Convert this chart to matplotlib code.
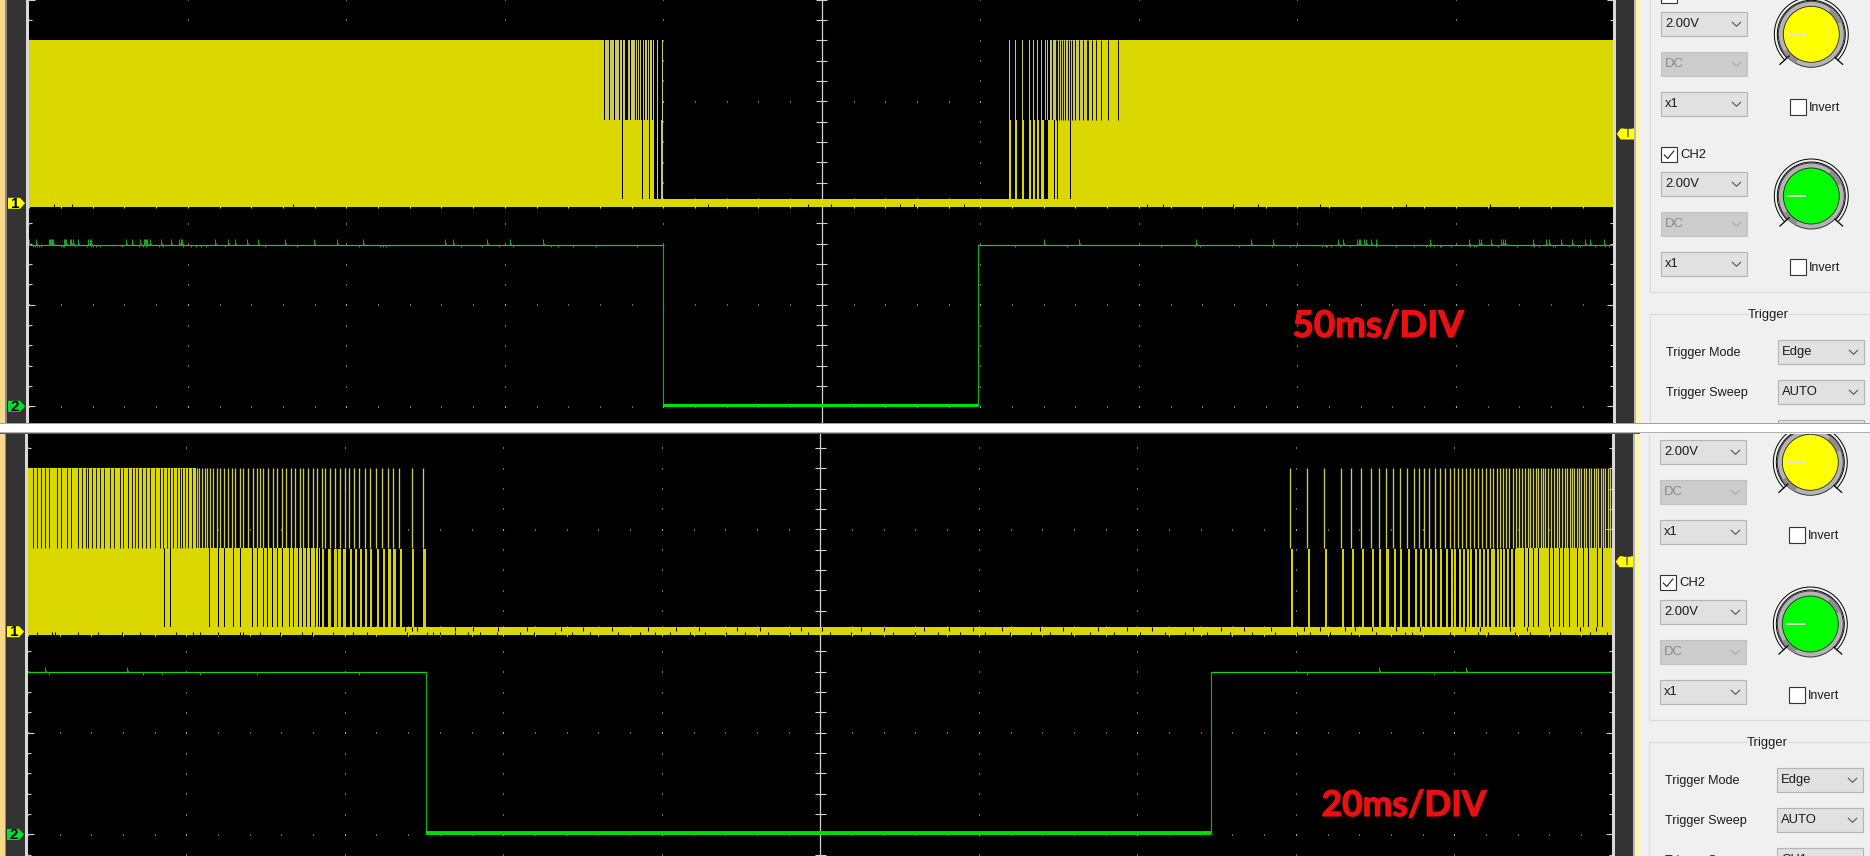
import numpy as np
import matplotlib
matplotlib.use('Agg')
import matplotlib.pyplot as plt
import matplotlib.patheffects as pe
from matplotlib.patches import Rectangle, Circle, Wedge, Arc, Polygon

W, H = 1870, 856
YELLOW = '#DAD800'
PALE = '#CBC95A'
GREEN = '#00E000'
DARKGREEN = '#1E9E2A'
plt.rcParams['font.family'] = ['Liberation Sans', 'DejaVu Sans']

# all trace values are in capture pixels (screen column / screen row of the scope window)

# ---- top capture, 50ms/DIV ----
top_ch1_levels = [40, 120, 199, 206.7]   # high, middle, band top, band bottom
top_upper_edges = [29, 662.5, 1009, 1614]
top_lower_edges = [29, 662.5, 1009, 1614]
top_upper_gap_start = [604, 609, 614, 618.7, 622, 625.3, 627.3, 630.3, 635.3, 637, 639, 641, 644, 646.7, 648.7,
                       651.7, 654, 658.3, 1010, 1016, 1023, 1030, 1034.3, 1038, 1042.3, 1046.3, 1048.3, 1051.7]
top_upper_gap_width = [1, 1, 1, 1, 1, 1.3, 1, 1, 1, 1, 1, 2.3, 1, 1, 1.3,
                       1.7, 3.3, 3.7, 5, 6, 5.7, 3, 2.7, 3.3, 3, 1, 1.7, 1.7]
top_upper_lines = [1055.7, 1057.3, 1059.3, 1061, 1063.3, 1065.3, 1068, 1070, 1072.3, 1075.3, 1078.7, 1083.3, 1086.7,
                   1088.3, 1092.3, 1096.3, 1101.3, 1108, 1118]
top_lower_gap_start = [622, 642, 649, 654, 658.3, 1011, 1017, 1024, 1031, 1035, 1039, 1044, 1054, 1057, 1070]
top_lower_gap_width = [1, 1, 1, 2.7, 2.4, 4, 5, 4.7, 2, 2, 2.3, 4, 1, 1, 1]
top_band_notches = [54, 72, 293, 708, 808, 831, 900, 914, 964, 1147, 1163, 1233, 1258, 1320, 1406, 1490]

top_ch2_cols = [29, 663, 663, 977.5, 977.5, 1614]
top_ch2_rows = [244.5, 244.5, 405, 405, 244.5, 244.5]
top_spikes_up = [29, 36, 49, 50, 51, 52, 53, 64, 65, 66, 70, 71, 73, 78, 88, 90, 91, 126, 132, 140, 144, 145, 146, 147,
                 150, 161, 171, 179, 181, 182, 215, 228, 235, 247, 258, 285, 314, 337, 363, 445, 453, 487, 510, 543,
                 1044, 1079, 1196, 1251, 1273, 1338, 1343, 1357, 1359, 1360, 1364, 1366, 1371, 1376, 1430, 1469,
                 1479, 1481, 1491, 1501, 1503, 1505, 1533, 1546, 1549, 1561, 1572, 1585, 1590, 1604]
top_spikes_down = [33, 35, 37, 39, 41, 61, 63, 64, 75, 87, 91, 93, 96, 100, 122, 139, 143, 146, 159, 163, 183, 191, 196,
                   201, 206, 225, 265, 297, 359, 380, 383, 386, 461, 482, 499, 513, 551, 558, 573, 596, 637,
                   1015, 1067, 1161, 1195, 1200, 1239, 1272, 1290, 1296, 1322, 1326, 1327, 1331, 1340, 1350, 1376,
                   1396, 1414, 1426, 1430, 1434, 1440, 1441, 1451, 1470, 1474, 1476, 1498, 1517, 1534, 1539, 1553,
                   1555, 1569, 1578, 1580, 1595, 1605, 1609]

# ---- bottom capture, 20ms/DIV ----
bot_ch1_levels = [468, 548, 627, 635]
bot_upper_gaps = [32.7, 36.7, 41.3, 45.3, 49.3, 56.7, 60.7, 67.3, 71.3, 78.3, 82.3, 86, 88.3, 91.7, 96.3, 100, 104, 110,
                  114.3, 120, 123.3, 128.3, 131.7, 135, 138.3, 141.7, 145.7, 150, 155, 160, 163.3, 166.7, 170, 173.3,
                  176.7, 180, 181.7, 185, 188.3, 191.7]
bot_upper_pulses = [196.7, 199.3, 201.7, 205, 207.3, 210, 213.3, 216.7, 220, 224, 228.3, 231.7, 235, 240, 243.3, 248.3,
                    253.3, 256.7, 260, 263.3, 268.3, 273.3, 277.3, 281.7, 286, 290.7, 295, 300, 303.3, 308.3, 313.3,
                    316.7, 321.7, 325, 330, 335, 340, 345, 349.3, 354.3, 359.3, 365, 370, 376, 381.7, 387.7, 393.3,
                    399.3, 411.7, 423.3,
                    1290.3, 1307.3, 1324.3, 1341.3, 1351.3, 1361.3, 1371.3, 1379, 1386.3, 1393.3, 1400.3, 1407.3,
                    1414.3, 1419.3, 1424.3, 1429.3, 1434.7, 1440, 1445.3, 1450.3, 1453.7, 1458, 1462.3, 1466.3, 1470,
                    1474.3, 1478.3, 1482, 1486, 1490, 1493.3, 1496.7, 1500, 1503, 1506, 1509, 1513.3, 1516.3, 1519.3,
                    1522.3, 1525, 1527.7, 1530.3, 1533, 1535.7, 1538.3, 1540.7, 1542.7, 1545, 1547.7, 1551, 1553.7,
                    1556.7, 1559.3, 1562, 1564.7, 1567.3, 1569.7, 1572, 1574.3, 1576.7, 1579, 1581.3, 1583.7, 1586,
                    1588.7, 1591, 1594, 1596, 1598.3, 1600.7, 1603, 1605.3, 1607.7, 1610.3]
bot_lower_gaps = [164.3, 170.3, 209.3, 218.3, 224.3, 233.3, 240.3, 252.3, 256.7, 263.3, 266.7, 271.7, 276.7, 281.7,
                  289.3, 293.3, 298.3, 301.7, 306, 310, 315, 318.3,
                  1524, 1528.3, 1533.3, 1538.3, 1549.3, 1553.3, 1559.3, 1563.3, 1569.3, 1576.7, 1583.3, 1588.3, 1597.3,
                  1602.3]
bot_lower_pulses = [321.7, 328.3, 334.3, 338.3, 343.3, 350, 355, 360, 365, 370, 376.7, 382.7, 388.3, 393.3, 400, 411.7,
                    423.3, 1290.7, 1308, 1325, 1341.7, 1352, 1362, 1372, 1379, 1386.3, 1393.7, 1400, 1408, 1415, 1420,
                    1425, 1430, 1435, 1440, 1446, 1451, 1454, 1459, 1463, 1467, 1470, 1475, 1479, 1483, 1487, 1491,
                    1493, 1496.7, 1500, 1503, 1507, 1511, 1515]
bot_lower_solid = [27.8, 320, 1516, 1613]
bot_band_notches = [37, 52, 55, 78, 98, 122, 140, 176, 193, 200, 218, 240, 243, 260, 280, 302, 312, 333, 353, 367, 407,
                    427, 433, 440, 455, 468, 480, 497, 520, 534, 555, 572, 590, 618, 640, 655, 670, 690, 705, 726, 745,
                    768, 790, 808, 830, 851, 870, 893, 915, 938, 960, 985, 1010, 1031, 1050, 1071, 1090, 1114,
                    1140, 1165, 1185, 1207, 1230, 1252, 1275, 1297, 1310, 1330, 1351, 1376, 1405, 1412, 1450, 1478,
                    1488, 1515, 1530, 1560, 1590, 1607]
bot_band_top_notches = [405, 412, 417, 455, 473, 498, 527, 561, 583, 612, 648, 676, 699, 737, 760, 801, 822, 861, 884,
                        924, 949, 973, 1002, 1040, 1063, 1098, 1127, 1152, 1193, 1221, 1244, 1271, 1304, 1320, 1345,
                        1355, 1372, 1396, 1420, 1465, 1480, 1510, 1527, 1550, 1580, 1596]

bot_ch2_cols = [27.8, 425.7, 425.7, 1211, 1211, 1613]
bot_ch2_rows = [672.3, 672.3, 832.7, 832.7, 672.3, 672.3]
bot_spikes_up = [44.7, 126.7, 1379, 1466]
bot_spikes_down = [48.7, 142.7, 161.7, 199.7, 256.7, 358.7, 1307, 1434]


def px_axes(fig, x0, y0, x1, y1, bg):
    ax = fig.add_axes([x0 / W, 1 - y1 / H, (x1 - x0) / W, (y1 - y0) / H])
    ax.set_xlim(x0, x1)
    ax.set_ylim(y1, y0)
    ax.set_facecolor(bg)
    ax.set_xticks([])
    ax.set_yticks([])
    for s in ax.spines.values():
        s.set_visible(False)
    return ax


def graticule(ax, cx, cy, left, right, top, bottom):
    dx, dy = 158.5, 101.7
    grid_col = '#D8D8D8'
    # dotted rows and columns of the scope grid
    xs = cx + np.arange(-25, 26) * dx / 5
    ys = np.arange(-5, 6)
    for k in ys:
        yy = cy + k * dy
        if top < yy < bottom:
            ax.vlines(xs, yy - 0.5, yy + 0.5, colors=grid_col, linewidths=0.8, zorder=1)
    ys2 = cy + np.arange(-25, 26) * dy / 5
    for k in range(-5, 6):
        ax.vlines(np.full_like(ys2, cx + k * dx), ys2 - 0.5, ys2 + 0.5, colors=grid_col, linewidths=0.8, zorder=1)
    # centre cross and edge ticks
    ax.axvline(cx, color='#D0D0D0', lw=0.9, zorder=1)
    ax.hlines(ys2, cx - 5.5, cx + 5.5, colors='#D0D0D0', linewidths=0.8, zorder=1)
    ax.vlines(xs, cy - 5.3, cy + 5.3, colors='#D0D0D0', linewidths=0.8, zorder=1)
    ax.hlines(ys2, left, left + 3, colors='#D0D0D0', linewidths=0.8, zorder=1)
    ax.hlines(ys2, right - 3, right, colors='#D0D0D0', linewidths=0.8, zorder=1)
    ax.hlines(cy + ys * dy, left, left + 6, colors='#D0D0D0', linewidths=0.8, zorder=1)
    ax.hlines(cy + ys * dy, right - 6, right, colors='#D0D0D0', linewidths=0.8, zorder=1)


def span(ax, x0, x1, y0, y1, color, z=2):
    ax.bar([x0], [y1 - y0], [x1 - x0], bottom=[y0], align='edge', color=color, linewidth=0, zorder=z)


def gaps(ax, starts, widths, y0, y1, color='black', z=3):
    ax.bar(starts, [y1 - y0] * len(starts), widths, bottom=y0, align='edge', color=color, linewidth=0, zorder=z)


def spikes(ax, row, up, down, up_h=5.5, down_h=2.5):
    ax.vlines(up, row - up_h, row, colors=DARKGREEN, linewidths=0.75, zorder=5)
    ax.vlines(np.array(up) + 1, row - 2, row, colors=DARKGREEN, linewidths=0.75, zorder=5)
    ax.vlines(down, row, row + down_h, colors=DARKGREEN, linewidths=0.75, zorder=5)


def combo(ax, x, y, label, disabled=False):
    face, edge, tc = ('#CCCCCC', '#C2C2C2', '#8A8A8A') if disabled else ('#E1E1E1', '#B4B4B4', '#1A1A1A')
    ax.add_patch(Rectangle((x, y), 85.4, 23.4, fc=face, ec=edge, lw=0.8))
    ax.text(x + 4, y + 12, label, fontsize=9.4, color=tc, va='center', ha='left', clip_on=True)
    cc = '#A8A8A8' if disabled else '#555555'
    ax.plot([x + 71, x + 75.2, x + 79.4], [y + 10, y + 14, y + 10], color=cc, lw=0.8)


def checkbox(ax, x, y, checked):
    ax.add_patch(Rectangle((x, y), 15.4, 15.4, fc='white', ec='#333333', lw=0.8))
    if checked:
        ax.plot([x + 3, x + 6.5, x + 12.5], [y + 8, y + 11.5, y + 4], color='#333333', lw=0.9)


def knob(ax, cx, cy, color):
    ax.add_patch(Arc((cx, cy), 74, 74, theta1=135, theta2=405, color='black', lw=0.7))
    ax.add_patch(Arc((cx, cy), 68, 68, theta1=135, theta2=405, color='black', lw=0.7))
    ax.add_patch(Circle((cx, cy), 33, fc='#B4B4B4', ec='#333333', lw=0.7))
    ax.add_patch(Wedge((cx, cy), 33, -52, -22, width=5, fc='#8E8E8E', lw=0))
    ax.add_patch(Wedge((cx, cy), 33, 118, 148, width=5, fc='#8E8E8E', lw=0))
    ax.add_patch(Circle((cx, cy), 28, fc=color, ec='#222222', lw=0.6))
    ax.plot([cx - 23, cx - 6.5], [cy - 0.5, cy - 0.5], color='#E4E4D8', lw=1.4)
    ax.plot([cx - 31.3, cx - 22.3], [cy + 30, cy + 21.7], color='black', lw=0.9)
    ax.plot([cx + 31.3, cx + 23.7], [cy + 30, cy + 23.3], color='black', lw=0.9)


def controls(ax, dx, dy, knob_y):
    tc = '#1A1A1A'
    checkbox(ax, 1661.3 + dx, -13.7 + dy, False)
    combo(ax, 1661.3 + dx, 11.3 + dy, '2.00V')
    combo(ax, 1661.3 + dx, 51.3 + dy, 'DC', disabled=True)
    combo(ax, 1661.3 + dx, 91.3 + dy, 'x1')
    knob(ax, 1811.3 + dx, knob_y + dy, '#FFFF00')
    checkbox(ax, 1790.3 + dx, 98.3 + dy, False)
    ax.text(1809 + dx, 106.7 + dy, 'Invert', fontsize=9, color=tc, va='center')

    checkbox(ax, 1661.3 + dx, 146 + dy, True)
    ax.text(1680 + dx, 154 + dy, 'CH2', fontsize=9.4, color=tc, va='center')
    combo(ax, 1661.3 + dx, 171.3 + dy, '2.00V')
    combo(ax, 1661.3 + dx, 211.3 + dy, 'DC', disabled=True)
    combo(ax, 1661.3 + dx, 251.3 + dy, 'x1')
    knob(ax, 1811.3 + dx, 195 + dy, '#00FF00')
    checkbox(ax, 1790.3 + dx, 258.3 + dy, False)
    ax.text(1809 + dx, 266.7 + dy, 'Invert', fontsize=9, color=tc, va='center')

    # group boxes
    box = '#DCDCDC'
    ax.plot([1650.3 + dx, 1650.3 + dx, 1875], [-30 + dy, 291.3 + dy, 291.3 + dy], color=box, lw=0.9)
    ax.plot([1650.3 + dx, 1650.3 + dx, 1748 + dx], [460 + dy, 313.3 + dy, 313.3 + dy], color=box, lw=0.9)
    ax.plot([1789 + dx, 1875], [313.3 + dy, 313.3 + dy], color=box, lw=0.9)
    ax.text(1768.5 + dx, 314 + dy, 'Trigger', fontsize=9.4, color=tc, va='center', ha='center')

    ax.text(1666 + dx, 351.7 + dy, 'Trigger Mode', fontsize=9.1, color=tc, va='center', clip_on=True)
    combo(ax, 1778.3 + dx, 339.3 + dy, 'Edge')
    ax.text(1666 + dx, 391.7 + dy, 'Trigger Sweep', fontsize=9.1, color=tc, va='center', clip_on=True)
    combo(ax, 1778.3 + dx, 379.3 + dy, 'AUTO')
    ax.text(1666 + dx, 431.7 + dy, 'Trigger Source', fontsize=9.1, color=tc, va='center', clip_on=True)
    combo(ax, 1778.3 + dx, 419.3 + dy, 'CH1')


def marker(ax, y, x0, x1, color, label):
    ax.add_patch(Polygon([[x0, y - 5.5], [x1 - 5, y - 5.5], [x1, y], [x1 - 5, y + 5.5], [x0, y + 5.5]], fc=color, lw=0, zorder=6))
    ax.text((x0 + x1 - 3) / 2, y + 0.4, label, fontsize=11, fontweight='bold', color='black', ha='center', va='center', zorder=7)


def t_marker(ax, y, x0, x1):
    ax.add_patch(Polygon([[x0, y], [x0 + 4, y - 5.5], [x1, y - 5.5], [x1, y + 5.5], [x0 + 4, y + 5.5]], fc='#FFFF00', lw=0, zorder=6))
    ax.text(x0 + 11.5, y + 0.3, 'T', fontsize=9.5, color='#444444', ha='center', va='center', zorder=7)


def div_label(ax, x, y, label, size):
    ax.text(x, y, label, fontsize=size, fontweight='bold', family='Lato', color='#E81010', ha='center', va='center', zorder=8,
            path_effects=[pe.withStroke(linewidth=0.9, foreground='#E81010')])


fig = plt.figure(figsize=(W / 100, H / 100), dpi=100, facecolor='white')

# window chrome behind both captures
bg = px_axes(fig, 0, 0, W, H, 'white')
for (off, y0, y1) in [(0, 0, 423.5), (-1, 433, 856)]:
    span(bg, 0, 4.5 + off + 1, y0, y1, '#FAD98B')
    span(bg, 4.5, 6.7 + off, y0, y1, '#8A8A8A')
    span(bg, 6.7 + off, 26 + off, y0, y1, '#333333')
    span(bg, 26 + off, 30 + off, y0, y1, '#D8D8D8')
    span(bg, 1612 + off, 1616 + off, y0, y1, '#D8D8D8')
    span(bg, 1616 + off, 1634 + off, y0, y1, '#333333')
    span(bg, 1634 + off, 1636 + off, y0, y1, '#BBBBBB')
    span(bg, 1636 + off, 1640 + off, y0, y1, '#FFF7A0')
    span(bg, 1640 + off, W, y0, y1, '#F0F0F0')
span(bg, 0, W, 423, 424, '#A0A0A0')
span(bg, 0, W, 431.7, 433, '#B0B0B0')
span(bg, 0, 1640, 433, 434, '#555555')
marker(bg, 203.3, 8, 25, '#FFFF00', '1')
marker(bg, 406.3, 8, 25, '#00E030', '2')
marker(bg, 631.7, 7, 24, '#FFFF00', '1')
marker(bg, 834.5, 7, 24, '#00E030', '2')
t_marker(bg, 134, 1616.7, 1634)
t_marker(bg, 561.7, 1615.7, 1633)

# top capture
top = px_axes(fig, 28.8, 0, 1613.3, 423, 'black')
graticule(top, 821.8, 203, 28.8, 1613.3, 0, 423)
high, mid, band_top, band_bot = top_ch1_levels
span(top, top_upper_edges[0], top_upper_edges[1], high, mid, YELLOW)
span(top, top_upper_edges[2], top_upper_edges[3], high, mid, YELLOW)
span(top, 604, top_upper_edges[1], high, mid, PALE)
span(top, top_upper_edges[2], 1085, high, mid, PALE)
span(top, top_lower_edges[0], top_lower_edges[1], mid, band_top, YELLOW)
span(top, top_lower_edges[2], top_lower_edges[3], mid, band_top, YELLOW)
span(top, 28, 1615, band_top, band_bot, YELLOW)
gaps(top, top_upper_gap_start, top_upper_gap_width, high, mid)
top.vlines(top_upper_lines, high, mid, colors='#111111', linewidths=0.72, zorder=3)
gaps(top, top_lower_gap_start, top_lower_gap_width, mid, band_top)
span(top, 660.7, 662.5, mid, band_top, PALE, z=3)
top.vlines(top_band_notches, band_bot - 3, band_bot, colors='black', linewidths=0.75, zorder=4)
top.plot(top_ch2_cols[:2], top_ch2_rows[:2], color=GREEN, lw=0.85, zorder=5)
top.plot(top_ch2_cols[4:], top_ch2_rows[4:], color=GREEN, lw=0.85, zorder=5)
top.plot(top_ch2_cols[1:3], top_ch2_rows[1:3], color='#10B020', lw=0.85, zorder=5)
top.plot(top_ch2_cols[3:5], top_ch2_rows[3:5], color='#10B020', lw=0.85, zorder=5)
top.plot(top_ch2_cols[2:4], top_ch2_rows[2:4], color=GREEN, lw=2.3, solid_capstyle='butt', zorder=5)
spikes(top, 244.5, top_spikes_up, top_spikes_down)
div_label(top, 1378, 326.5, '50ms/DIV', 26.5)

# bottom capture
bot = px_axes(fig, 27.8, 434, 1612.3, 856, 'black')
graticule(bot, 820.3, 631, 27.8, 1612.3, 434, 856)
high, mid, band_top, band_bot = bot_ch1_levels
span(bot, 27.8, 196, high, mid, YELLOW)
span(bot, bot_lower_solid[0], bot_lower_solid[1], mid, band_top, YELLOW)
span(bot, bot_lower_solid[2], bot_lower_solid[3], mid, band_top, YELLOW)
span(bot, 27.8, 1613, band_top, band_bot, YELLOW)
bot.vlines(bot_upper_gaps, high, mid, colors='black', linewidths=0.62, zorder=3)
bot.vlines(bot_upper_pulses, high, mid, colors=PALE, linewidths=0.95, zorder=3)
gaps(bot, bot_lower_gaps, [1] * len(bot_lower_gaps), mid, band_top)
gaps(bot, bot_lower_pulses, [2.3] * len(bot_lower_pulses), mid + 1, band_top, color='#D6D400', z=3)
bot.vlines(bot_band_notches, band_bot - 3, band_bot, colors='black', linewidths=0.75, zorder=4)
bot.vlines(bot_band_top_notches, band_top, band_top + 4, colors='black', linewidths=0.75, zorder=4)
bot.plot(bot_ch2_cols[:2], bot_ch2_rows[:2], color=GREEN, lw=0.85, zorder=5)
bot.plot(bot_ch2_cols[4:], bot_ch2_rows[4:], color=GREEN, lw=0.85, zorder=5)
bot.plot(bot_ch2_cols[1:3], bot_ch2_rows[1:3], color='#10B020', lw=0.85, zorder=5)
bot.plot(bot_ch2_cols[3:5], bot_ch2_rows[3:5], color='#10B020', lw=0.85, zorder=5)
bot.plot(bot_ch2_cols[2:4], bot_ch2_rows[2:4], color=GREEN, lw=2.8, solid_capstyle='butt', zorder=5)
spikes(bot, 672.3, bot_spikes_up, bot_spikes_down)
div_label(bot, 1404, 806, '20ms/DIV', 25.5)

# control panels on the right, cut off by the capture edges
ctl_top = px_axes(fig, 1640, 0, W, 423, '#F0F0F0')
controls(ctl_top, 0, 1, 33.3)
ctl_bot = px_axes(fig, 1639, 433.5, W, H, '#F0F0F0')
controls(ctl_bot, -1, 429, 33.3)

fig.savefig('out.png', dpi=100)
